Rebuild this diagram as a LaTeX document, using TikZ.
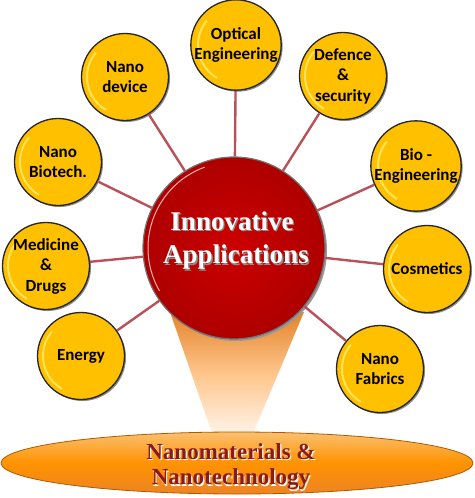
\documentclass[tikz,border=0pt]{standalone}
\usepackage{fontspec}
\setmainfont{Liberation Serif}
\newfontfamily\satfont{Carlito}
\usetikzlibrary{shadows}
\definecolor{gold}{HTML}{FFC000}
\definecolor{goldhi}{HTML}{FFE45A}
\definecolor{linkred}{HTML}{B9505A}
\definecolor{bigred}{HTML}{CC0000}
\definecolor{darkred}{HTML}{AE0000}
\definecolor{textred}{HTML}{8B1A1A}
\definecolor{orangetop}{HTML}{FAC070}
\definecolor{orangebot}{HTML}{EC8424}
\newcommand{\shtext}[3]{\rlap{\hspace{#2}\raisebox{-#2}{\color{#3}#1}}#1}
\tikzset{
  sat/.style={circle, minimum size=87pt, inner sep=0pt, fill=gold, draw=black!85,
    line width=1.3pt, align=center, text=black,
    font=\satfont\bfseries\fontsize{17}{20.5}\selectfont,
    path picture={\draw[goldhi, line width=2pt] (path picture bounding box.center) ++(120:38) arc (120:220:38);},
    drop shadow={shadow xshift=1.5pt, shadow yshift=-1.5pt, fill=black!45, opacity=1}},
  hub/.style={circle, minimum size=182pt, inner sep=0pt, draw=black!55, line width=1.2pt,
    inner color=bigred, outer color=darkred,
    drop shadow={shadow xshift=2pt, shadow yshift=-2pt, fill=black!40, opacity=1}},
  link/.style={draw=linkred, line width=2.4pt},
  hubtxt/.style={font=\bfseries\fontsize{27}{36}\selectfont, text=white},
  basetxt/.style={font=\bfseries\fontsize{23}{28}\selectfont, text=textred},
}
\begin{document}
\begin{tikzpicture}[x=1pt,y=-1pt]
\useasboundingbox (0,0) rectangle (474,498);
% light beam
\shade[top color=orangebot!80!brown, bottom color=orange!8!white, middle color=orange!45!white]
  (170,312) -- (304,312) -- (252,436) -- (213,436) -- cycle;
% base ellipse
\shade[top color=orangetop, bottom color=orangebot, middle color=orange!85!yellow, draw=orange!70!black, line width=0.8pt]
  (237,463) ellipse (236pt and 31pt);
\node[basetxt] (b1) at (231,452) {\shtext{Nanomaterials \&}{1.2pt}{white}};
\node[basetxt] (b2) at (231,480) {\shtext{Nanotechnology}{1.2pt}{white}};
% hub
\node[hub] (hub) at (234,248) {};
\draw[white!70!bigred, line width=1pt] (hub.center) ++(150:86) arc (150:250:86);
\node[hubtxt] (h1) at (232,222) {\shtext{Innovative}{1.4pt}{black!45}};
\node[hubtxt] (h2) at (236,258) {\shtext{Applications}{1.4pt}{black!45}};
% satellites
\node[sat] (opt) at (236,45) {Optical\\Engineering};
\node[sat] (dev) at (125,77) {Nano\\device};
\node[sat] (bio) at (58,162) {Nano\\Biotech.};
\node[sat] (med) at (46,266) {Medicine\\\&\\Drugs};
\node[sat] (ene) at (81,356) {Energy};
\node[sat] (def) at (343,76) {Defence\\\&\\security};
\node[sat] (bioe) at (416,166) {Bio -\\Engineering};
\node[sat] (cos) at (427,269) {Cosmetics};
\node[sat] (fab) at (380,369) {Nano\\Fabrics};
% links
\foreach \s in {opt,dev,bio,med,ene,def,bioe,cos,fab}
  \draw[link] (hub) -- (\s);
\end{tikzpicture}
\end{document}
